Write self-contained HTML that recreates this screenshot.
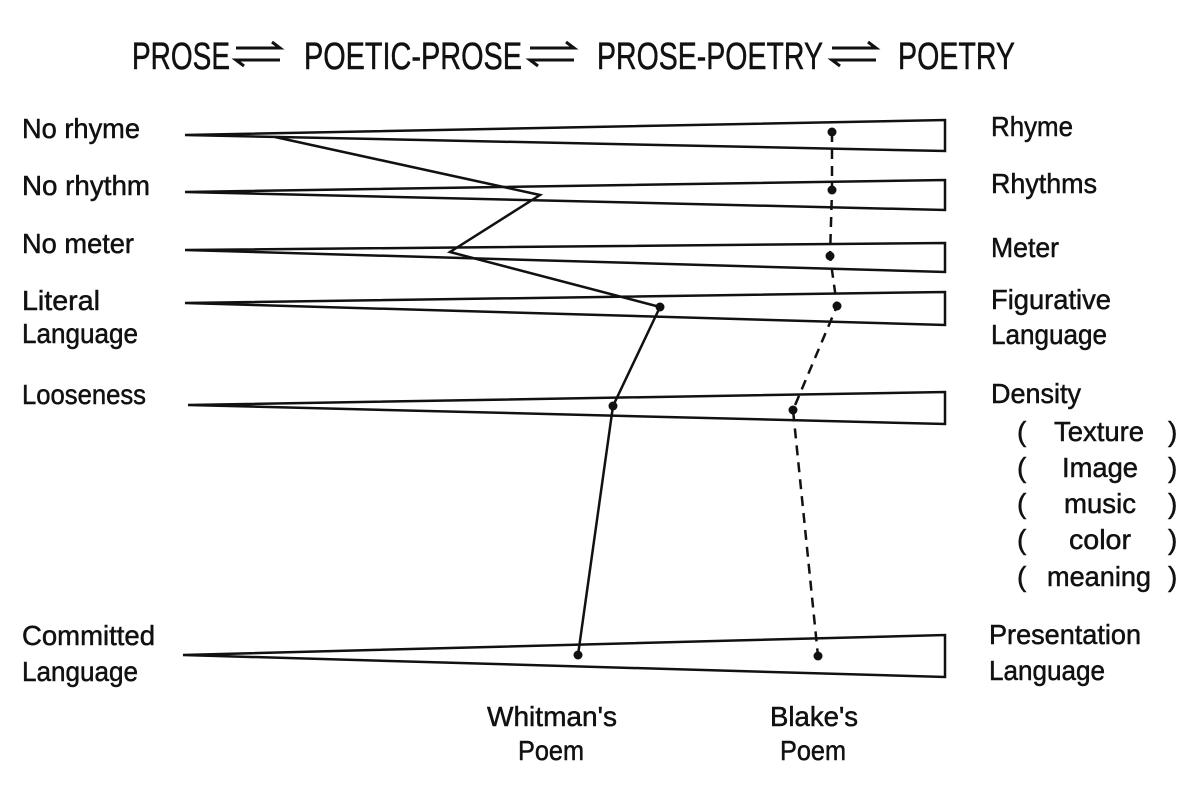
<!DOCTYPE html>
<html><head><style>
body{margin:0;background:#fff;}
svg text{font-family:"Liberation Sans",sans-serif;fill:#111;stroke:#111;stroke-width:0.5;}
</style></head><body>
<svg width="1193" height="802" viewBox="0 0 1193 802" xmlns="http://www.w3.org/2000/svg">
<g font-size="38">
<text x="132" y="69" textLength="98" lengthAdjust="spacingAndGlyphs">PROSE</text>
<text x="304" y="69" textLength="218" lengthAdjust="spacingAndGlyphs">POETIC-PROSE</text>
<text x="597" y="69" textLength="226" lengthAdjust="spacingAndGlyphs">PROSE-POETRY</text>
<text x="898" y="69" textLength="117" lengthAdjust="spacingAndGlyphs">POETRY</text>
</g>
<g stroke="#111" stroke-width="3" fill="none">
<path d="M236 48h44l-8-6M280 60h-44l8 6"/>
<path d="M530 48h44l-8-6M574 60h-44l8 6"/>
<path d="M832 48h44l-8-6M876 60h-44l8 6"/>
</g>
<g stroke="#111" stroke-width="2.5" fill="none">
<path d="M185 135L945 120V151Z"/>
<path d="M185 192L945 180V210Z"/>
<path d="M185 250L945 243V272Z"/>
<path d="M185 303L945 292V325Z"/>
<path d="M188 405L945 392V424Z"/>
<path d="M183 655L945 635V677Z"/>
<polyline points="275,137 540,195 450,252 660,307 613,406 578,655"/>
<polyline stroke-dasharray="10,7" points="832,132 832,190 830,256 837,306 793,410 818,656"/>
</g>
<g fill="#111">
<circle cx="660" cy="307" r="4.5"/><circle cx="613" cy="406" r="4.5"/><circle cx="578" cy="655" r="4.5"/>
<circle cx="832" cy="132" r="4.5"/><circle cx="832" cy="190" r="4.5"/><circle cx="830" cy="256" r="4.5"/><circle cx="837" cy="306" r="4.5"/><circle cx="793" cy="410" r="4.5"/><circle cx="818" cy="656" r="4.5"/>
</g>
<g font-size="28">
<text x="22" y="138" textLength="118" lengthAdjust="spacingAndGlyphs">No rhyme</text>
<text x="22" y="195" textLength="128" lengthAdjust="spacingAndGlyphs">No rhythm</text>
<text x="22" y="253" textLength="112" lengthAdjust="spacingAndGlyphs">No meter</text>
<text x="22" y="310" textLength="78" lengthAdjust="spacingAndGlyphs">Literal</text>
<text x="22" y="343" textLength="116" lengthAdjust="spacingAndGlyphs">Language</text>
<text x="22" y="404" textLength="124" lengthAdjust="spacingAndGlyphs">Looseness</text>
<text x="22" y="645" textLength="133" lengthAdjust="spacingAndGlyphs">Committed</text>
<text x="22" y="681" textLength="116" lengthAdjust="spacingAndGlyphs">Language</text>
<text x="991" y="136" textLength="82" lengthAdjust="spacingAndGlyphs">Rhyme</text>
<text x="991" y="193" textLength="106" lengthAdjust="spacingAndGlyphs">Rhythms</text>
<text x="991" y="257" textLength="68" lengthAdjust="spacingAndGlyphs">Meter</text>
<text x="991" y="309" textLength="120" lengthAdjust="spacingAndGlyphs">Figurative</text>
<text x="991" y="344" textLength="116" lengthAdjust="spacingAndGlyphs">Language</text>
<text x="991" y="403" textLength="90" lengthAdjust="spacingAndGlyphs">Density</text>
<text x="1017" y="441">(</text><text x="1054" y="441" textLength="90" lengthAdjust="spacingAndGlyphs">Texture</text><text x="1168" y="441">)</text>
<text x="1017" y="477">(</text><text x="1062" y="477" textLength="76" lengthAdjust="spacingAndGlyphs">Image</text><text x="1168" y="477">)</text>
<text x="1017" y="513">(</text><text x="1064" y="513" textLength="72" lengthAdjust="spacingAndGlyphs">music</text><text x="1168" y="513">)</text>
<text x="1017" y="549">(</text><text x="1069" y="549" textLength="62" lengthAdjust="spacingAndGlyphs">color</text><text x="1168" y="549">)</text>
<text x="1017" y="586">(</text><text x="1047" y="586" textLength="104" lengthAdjust="spacingAndGlyphs">meaning</text><text x="1168" y="586">)</text>
<text x="989" y="644" textLength="152" lengthAdjust="spacingAndGlyphs">Presentation</text>
<text x="989" y="680" textLength="116" lengthAdjust="spacingAndGlyphs">Language</text>
<text x="487" y="726" textLength="130" lengthAdjust="spacingAndGlyphs">Whitman's</text>
<text x="518" y="760" textLength="66" lengthAdjust="spacingAndGlyphs">Poem</text>
<text x="770" y="726" textLength="88" lengthAdjust="spacingAndGlyphs">Blake's</text>
<text x="780" y="760" textLength="66" lengthAdjust="spacingAndGlyphs">Poem</text>
</g>
</svg>
</body></html>
